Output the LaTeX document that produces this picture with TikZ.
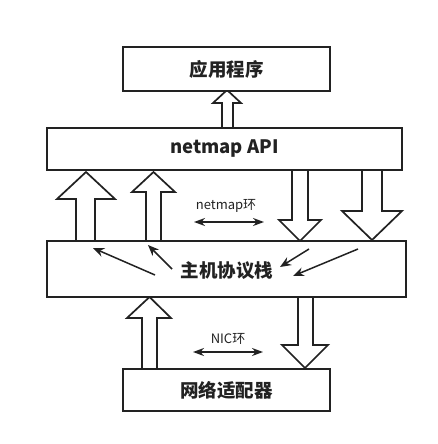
\documentclass[tikz,border=0pt]{standalone}
\usepackage{fontspec}
\setmainfont{Noto Sans CJK SC}
\usetikzlibrary{arrows.meta}
\definecolor{ink}{HTML}{222222}
\tikzset{
  box/.style={draw=ink,line width=1.7pt,fill=white},
  boxtext/.style={font=\fontsize{18.5}{20}\selectfont\bfseries,text=ink},
  hollow/.style={draw=ink,line width=1.7pt,fill=white,line join=miter},
  thin/.style={draw=ink,line width=1.5pt,-{Stealth[length=11pt,width=9pt]}},
  ring/.style={draw=ink,line width=1.5pt,{Stealth[length=11pt,width=8pt]}-{Stealth[length=11pt,width=8pt]}},
  lab/.style={font=\fontsize{13}{14}\selectfont,text=ink}
}
\begin{document}
\begin{tikzpicture}[x=1pt,y=-1pt]
\useasboundingbox[fill=white] (0,0) rectangle (438,444);
% hollow arrows (drawn first, boxes cover their ends)
% box1-box2
\draw[hollow] (222,130) -- (222,103) -- (213,103) -- (227,90) -- (241,103) -- (233,103) -- (233,130);
% up arrows box3 -> box2
\draw[hollow] (76,243) -- (76,199) -- (57,199) -- (86,172) -- (115,199) -- (95,199) -- (95,243);
\draw[hollow] (146,243) -- (146,192) -- (132,192) -- (153.5,172) -- (175,192) -- (161,192) -- (161,243);
% down arrows box2 -> box3
\draw[hollow] (292,168) -- (292,220) -- (279,220) -- (300,241) -- (321,220) -- (308,220) -- (308,168);
\draw[hollow] (362,168) -- (362,211) -- (342,211) -- (372,240) -- (402,211) -- (382,211) -- (382,168);
% box4 -> box3 up
\draw[hollow] (142,371) -- (142,318) -- (127,318) -- (149.5,297) -- (171,318) -- (157,318) -- (157,371);
% box3 -> box4 down
\draw[hollow] (298,295) -- (298,345) -- (282,345) -- (305,368) -- (328,345) -- (313,345) -- (313,295);
% boxes
\node[box,boxtext,minimum width=207pt,minimum height=44pt] (app) at (226.5,69) {应用程序};
\node[box,boxtext,minimum width=355pt,minimum height=42pt] (api) at (224.5,149) {netmap API};
\node[box,minimum width=359pt,minimum height=56pt] (stack) at (226.5,269) {};
\node[boxtext] (stacktext) at (227,271) {主机协议栈};
\node[box,boxtext,minimum width=207pt,minimum height=42pt] (nic) at (226.5,390) {网络适配器};
% ring labels
\node[lab] (nmring) at (226,206) {netmap环};
\coordinate (nmL) at (194,222);
\coordinate (nmR) at (264,222);
\draw[ring] (nmL) -- (nmR);
\node[lab] (nicring) at (228,339) {NIC环};
\coordinate (nicL) at (193,352);
\coordinate (nicR) at (263,352);
\draw[ring] (nicL) -- (nicR);
% small arrows inside stack
\coordinate (a1s) at (155,275); \coordinate (a1e) at (93,248);
\coordinate (a2s) at (172,269); \coordinate (a2e) at (148,245);
\coordinate (a3s) at (309,249); \coordinate (a3e) at (280,267);
\coordinate (a4s) at (358,249); \coordinate (a4e) at (293,276);
\draw[thin] (a1s) -- (a1e);
\draw[thin] (a2s) -- (a2e);
\draw[thin] (a3s) -- (a3e);
\draw[thin] (a4s) -- (a4e);
\end{tikzpicture}
\end{document}
